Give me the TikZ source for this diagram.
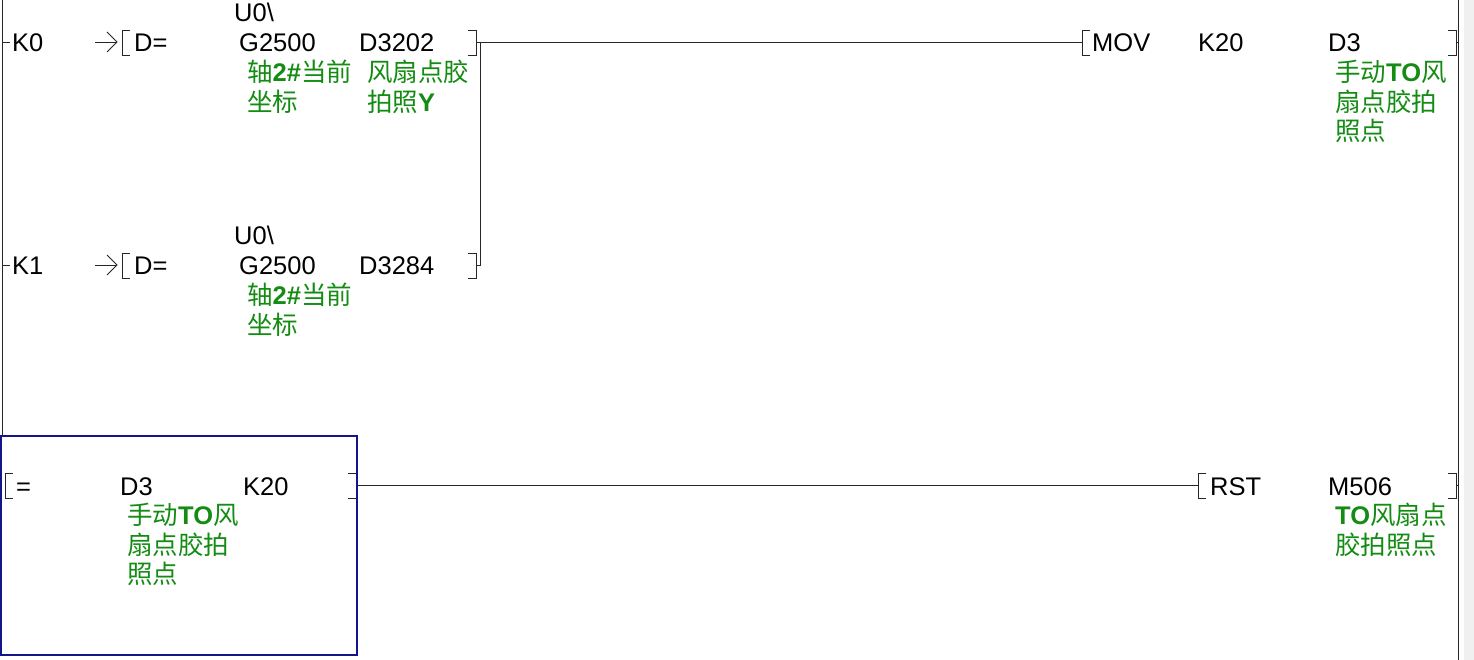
\documentclass[tikz,border=0pt]{standalone}
\usepackage{fontspec}
\setmainfont{Liberation Sans}
\newfontfamily\cjk{Noto Sans CJK SC}
\definecolor{cmt}{RGB}{20,140,20}
\definecolor{boxblue}{RGB}{20,20,140}
\tikzset{
  lbl/.style={anchor=base west,inner sep=0pt,font=\fontsize{25.5}{29}\selectfont},
  cmtext/.style={anchor=north west,inner sep=0pt,text=cmt,align=left,font=\fontsize{25.5}{29.5}\selectfont\cjk},
  wire/.style={line width=0.9pt,black!85},
}
\newcommand{\openbr}[2]{\draw[wire] (#1+8,#2-12) -- (#1,#2-12) -- (#1,#2+13) -- (#1+8,#2+13);}
\newcommand{\closebr}[2]{\draw[wire] (#1-8,#2-12) -- (#1,#2-12) -- (#1,#2+13) -- (#1-8,#2+13);}
\newcommand{\arr}[2]{\draw[wire] (#1,#2) -- (#1+22,#2); \draw[wire] (#1+12,#2-10) -- (#1+22,#2) -- (#1+12,#2+10);}
\begin{document}
\begin{tikzpicture}[x=1pt,y=-1pt]
\useasboundingbox (0,0) rectangle (1474,660);
\fill[white] (0,0) rectangle (1474,660);
\fill[black!6] (1464,0) rectangle (1474,660);
% rails
\draw[wire] (2,0) -- (2,436);
\draw[wire] (1458,0) -- (1458,660);
% Row 1
\draw[wire] (2,42) -- (10,42);
\node[lbl] (k0) at (12,52) {K0};
\arr{95}{42}
\openbr{122}{42}
\node[lbl] (d1) at (134,52) {D=};
\node[lbl] (u1) at (234,22) {U0\textbackslash};
\node[lbl] (g1) at (239,52) {G2500};
\node[lbl] (s1) at (359,52) {D3202};
\node[cmtext] (c1) at (247,60) {轴\textbf{\fontspec{Liberation Sans}2\#}当前\\坐标};
\node[cmtext] (c2) at (367,60) {风扇点胶\\拍照\textbf{\fontspec{Liberation Sans}Y}};
\closebr{476}{42}
\coordinate (j1) at (480,42);
\coordinate (j2) at (480,265);
\draw[wire] (476,42) -- (1082,42);
\draw[wire] (j1) -- (j2) -- (476,265);
\openbr{1082}{42}
\node[lbl] (mov) at (1092,52) {MOV};
\node[lbl] (k20) at (1198,52) {K20};
\node[lbl] (d3) at (1328,52) {D3};
\node[cmtext] (c3) at (1335,60) {手动\textbf{\fontspec{Liberation Sans}TO}风\\扇点胶拍\\照点};
\closebr{1456}{42}
\draw[wire] (1456,42) -- (1458,42);
% Row 2
\draw[wire] (2,265) -- (10,265);
\node[lbl] (k1) at (12,275) {K1};
\arr{95}{265}
\openbr{122}{265}
\node[lbl] (d2) at (134,275) {D=};
\node[lbl] (u2) at (234,245) {U0\textbackslash};
\node[lbl] (g2) at (239,275) {G2500};
\node[lbl] (s2) at (359,275) {D3284};
\node[cmtext] (c4) at (247,283) {轴\textbf{\fontspec{Liberation Sans}2\#}当前\\坐标};
\closebr{476}{265}
% Row 3
\openbr{5}{485}
\node[lbl] (eq) at (16,495) {=};
\node[lbl] (d3b) at (120,495) {D3};
\node[lbl] (k20b) at (243,495) {K20};
\node[cmtext] (c5) at (127,503) {手动\textbf{\fontspec{Liberation Sans}TO}风\\扇点胶拍\\照点};
\closebr{356}{485}
\draw[wire] (356,485) -- (1198,485);
\openbr{1198}{485}
\node[lbl] (rst) at (1210,495) {RST};
\node[lbl] (m506) at (1328,495) {M506};
\node[cmtext] (c6) at (1335,503) {\textbf{\fontspec{Liberation Sans}TO}风扇点\\胶拍照点};
\closebr{1456}{485}
\draw[wire] (1456,485) -- (1458,485);
% selection box
\draw[boxblue,line width=2pt] (1,436) rectangle (357,655);
\end{tikzpicture}
\end{document}
